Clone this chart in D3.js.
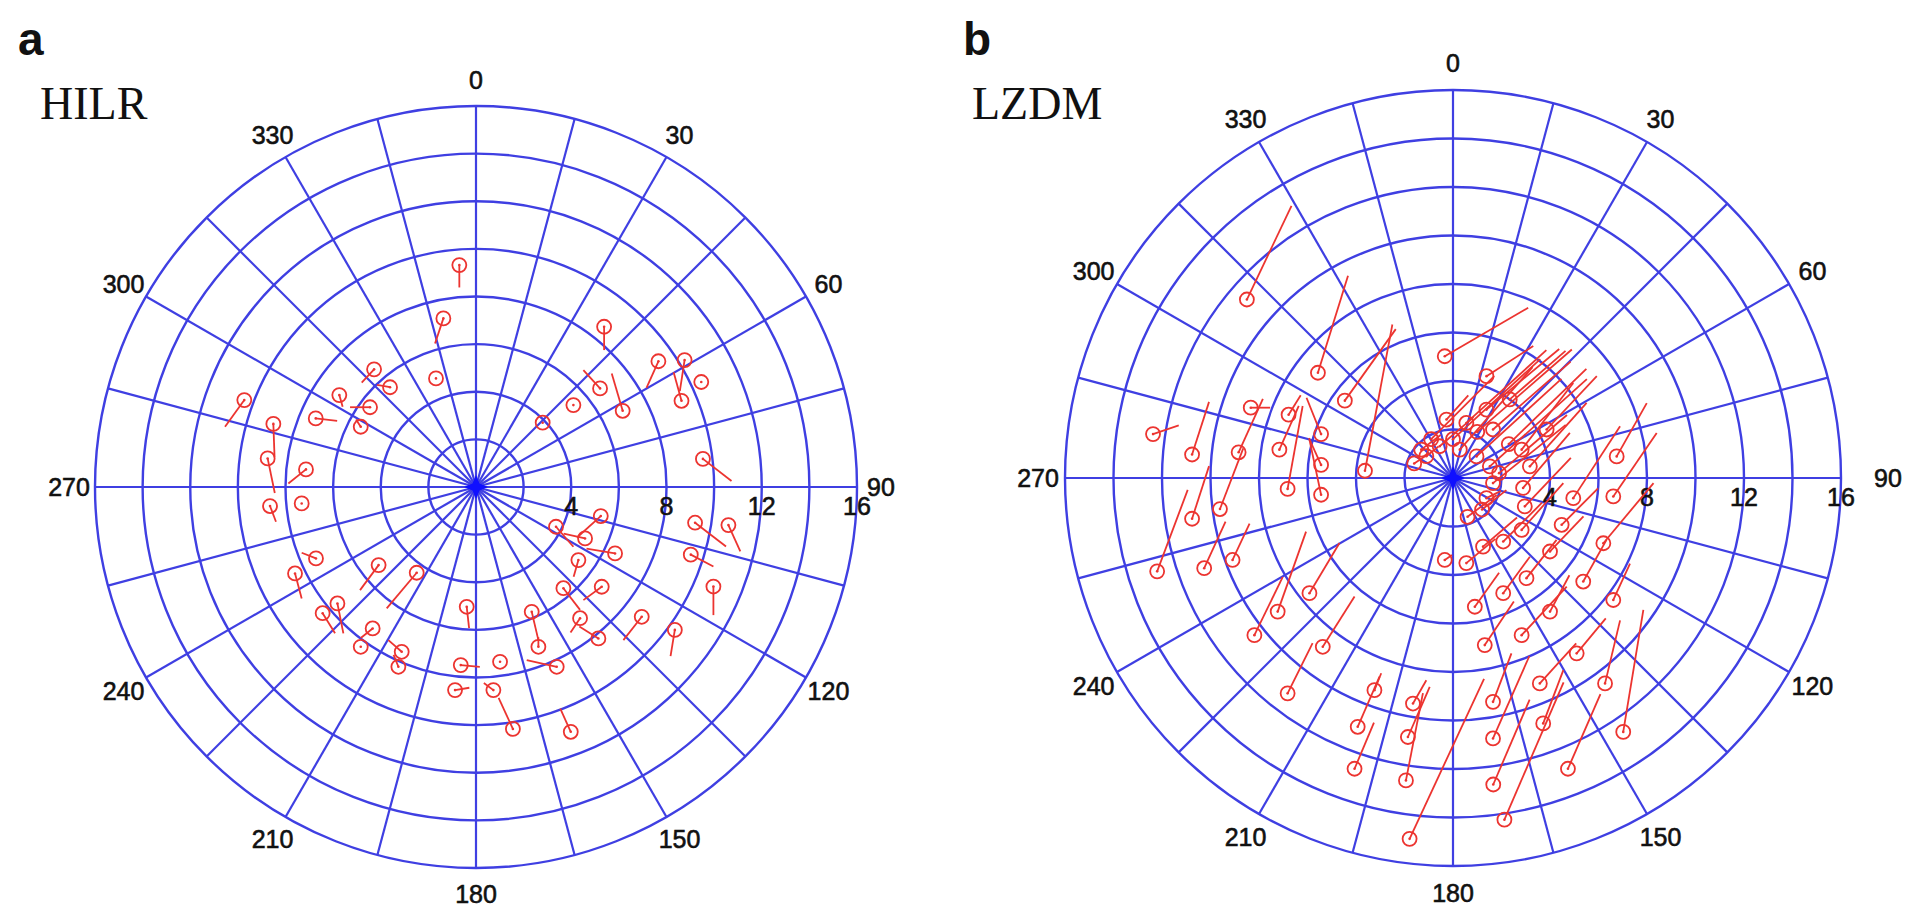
<!DOCTYPE html>
<html><head><meta charset="utf-8">
<script src="https://cdn.jsdelivr.net/npm/d3@7/dist/d3.min.js"></script>
<style>body{margin:0;background:#fff}svg{display:block}</style>
</head><body>
<svg id="c" width="1914" height="912"></svg>
<script>
// ---- data (east, north position in radius units; stick dE, dN) ----
const angleTicks = [0,30,60,90,120,150,180,210,240,270,300,330];
const radiusTicks = [4,8,12,16];
const ringValues = [2,4,6,8,10,12,14,16];
const spokeAngles = d3.range(0,360,15);
const panelLetters = ["a","b"];
const stationNames = ["HILR","LZDM"];

const hilrEast  = [-0.70,-1.37,-1.68,-4.28,-3.61,-5.74,-4.45,-4.84,-6.73,-9.73,-8.51,-8.75,-7.14,-8.65,-7.32,-6.72,-7.60,-5.82,-6.44,-4.09,-2.49,-4.34,-4.84,-3.12,-3.26,-0.39,-0.64,1.01,-0.88,0.73,5.38,4.09,2.80,5.21,6.16,5.24,3.36,4.58,5.84,4.30,3.67,5.28,4.37,5.14,2.34,2.62,3.39,6.96,1.55,3.98,8.35,9.97,9.02,9.20,10.60,9.53,9.46,8.63,8.76,7.66];
const hilrNorth = [9.32,7.08,4.56,4.94,4.19,3.86,3.35,2.53,2.88,3.65,2.65,1.20,0.74,-0.80,-0.69,-3.00,-3.63,-4.89,-5.30,-3.28,-3.60,-5.94,-6.71,-6.92,-7.55,-5.03,-7.48,-7.34,-8.53,-8.53,6.73,3.44,2.70,4.14,3.20,-1.22,-1.67,-2.16,-2.79,-3.07,-4.25,-4.19,-5.51,-6.36,-5.24,-6.71,-7.55,-5.45,-10.16,-10.28,-6.00,-4.18,-2.84,-1.50,-1.60,1.18,4.41,3.62,5.33,5.28];
const hilrStickE = [0,-0.35,0,-0.52,-0.55,0.14,-0.84,-0.2,0.9,-0.81,0.05,0.3,-0.74,0.25,0,-0.6,0.28,0.25,0.52,-0.78,-1.26,-0.5,0,-0.56,-0.2,0.1,0.8,0,0.6,-0.4,0,0,0,-0.7,-0.46,-1.0,0.73,-0.9,-1.2,-0.2,0.7,-0.77,-0.4,-0.8,0.28,0,-1.26,-0.77,-0.6,-0.44,-0.18,0,0.95,1.3,0.5,1.2,0,-0.33,-0.2,-0.5];
const hilrStickN = [-0.94,-1.05,0,-0.56,0.1,-0.49,0,0.3,-0.1,-1.12,-1.4,-1.45,-0.59,-0.66,0,0.24,-1.05,-1.26,-0.84,-1.05,-1.5,-0.4,0,0.49,0.5,-0.9,-0.07,0,0.1,0.3,-0.98,0,0,0.77,1.57,-0.9,-0.84,0.2,0.2,-0.7,-0.91,-0.56,-0.6,0.5,-1.19,0.4,0.28,-0.98,1.3,0.97,-1.1,-1.2,-0.5,-1.0,-1.1,-0.93,0,1.2,-1.3,-1.12];

const lzdmEast  = [-8.5,-5.57,-4.46,-8.34,-6.78,-7.16,-8.84,-5.44,-5.44,-5.44,-6.82,-9.61,-3.63,-10.26,-9.09,-5.92,-7.23,-8.19,-5.37,-6.82,-3.24,-3.93,-1.65,-1.86,1.65,1.65,3.72,3.58,5.1,6.27,7.02,6.61,5.37,4.0,3.03,2.07,0.9,2.83,1.31,4.0,6.2,4.48,6.61,4.96,6.75,3.86,2.83,3.17,2.89,2.96,2.83,2.07,1.24,0.55,-0.34,-0.34,-0.27,1.38,-1.31,-0.55,0.28,0.97,1.52,1.65,1.38,0.55,1.38,1.65,2.34,-12.37,-10.76,-10.76,-12.2,-4.06,-1.94,-1.79,1.66,2.12,4.74,-1.6,-0.9,0.0,1.9,1.2,0.6,-1.1,2.3,1.0];
const lzdmNorth = [7.36,4.34,3.19,2.9,2.61,1.17,1.06,1.81,0.54,-0.69,-0.45,-1.28,0.3,-3.72,-3.38,-4.75,-5.51,-6.48,-6.96,-8.88,-8.75,-10.26,-9.3,-10.68,-9.23,-10.74,-10.12,-8.47,-7.23,-8.47,-10.47,-5.03,-4.27,-5.51,-4.13,-4.75,-5.31,-6.48,-6.89,-3.03,-2.69,-1.93,-0.76,-0.83,0.89,2.0,1.17,0.48,-0.41,-1.17,-2.14,-2.62,-2.83,-3.51,-3.38,5.02,2.41,4.2,1.17,1.31,1.17,0.89,0.48,-0.21,-0.83,2.27,2.82,2.0,3.24,1.81,0.97,-1.68,-3.85,-11.99,-12.47,-14.88,-12.64,-14.09,-11.99,0.6,1.6,1.6,0.2,-1.3,-1.6,0.9,1.4,1.9];
const lzdmStickE = [1.84,1.24,2.1,0.8,0.5,0.8,1.0,-0.6,-0.5,-0.48,0.62,0.96,1.13,0.88,0.7,1.24,1.17,1.17,1.31,1.03,0.28,0.9,0.55,0.9,0.76,1.5,0.83,1.5,1.2,0.62,0.83,0.69,0.96,0.8,1.24,1.1,1.0,1.86,1.2,1.38,2.07,1.5,1.79,1.93,1.24,2.07,2.13,2.34,1.93,1.9,1.72,1.6,1.4,1.2,0.3,3.44,0.9,1.93,0.8,1.4,3.0,3.5,4.0,3.0,0.6,3.3,3.0,3.2,2.3,1.06,0.7,0.7,1.26,0.8,0.7,3.07,1.5,2.44,1.34,0.6,2.6,3.6,2.8,1.0,1.2,0.5,3.2,3.9];
const lzdmStickN = [3.86,4.0,2.95,0.0,0.8,1.8,2.2,1.5,1.1,2.27,3.42,2.5,6.03,1.92,1.5,2.07,3.3,2.4,2.07,2.07,0.7,2.07,0.96,2.07,2.0,3.4,2.2,1.65,1.44,2.6,5.03,1.5,1.72,1.5,1.58,1.5,1.4,2.0,1.8,1.45,2.48,1.5,2.62,2.96,2.2,2.2,2.75,2.62,2.27,2.0,1.93,1.6,1.2,1.0,0.2,2.0,1.0,1.24,0.6,1.2,3.4,3.2,3.6,2.4,0.3,3.0,2.5,2.8,2.0,0.36,2.17,2.17,3.36,1.9,3.6,6.6,3.5,5.66,3.08,0.4,2.6,3.3,2.4,0.8,0.9,0.4,3.1,3.4];

// ---- layout ----
const panels = [
  {cx:476, cy:487, R:381, letterX:18, nameX:40, east:hilrEast, north:hilrNorth, se:hilrStickE, sn:hilrStickN, labelOff:26, off90:24},
  {cx:1453, cy:478, R:388, letterX:963, nameX:972, east:lzdmEast, north:lzdmNorth, se:lzdmStickE, sn:lzdmStickN, labelOff:27, off90:47}
];
const gridColor = "#3f3fe2";
const markColor = "#ec3430";
const svg = d3.select("#c");
const sans = "Liberation Sans, Arial, sans-serif";

panels.forEach((p,i)=>{
  const g = svg.append("g").attr("transform",`translate(${p.cx},${p.cy})`);
  const r = d3.scaleLinear().domain([0,16]).range([0,p.R]);
  const ang = d3.scaleLinear().domain([0,360]).range([0,2*Math.PI]);
  g.selectAll("circle.ring").data(ringValues).join("circle")
    .attr("r",d=>r(d)).attr("fill","none").attr("stroke",gridColor).attr("stroke-width",2.4);
  g.selectAll("line.spoke").data(spokeAngles).join("line")
    .attr("x1",0).attr("y1",0)
    .attr("x2",d=>r(16)*Math.sin(ang(d))).attr("y2",d=>-r(16)*Math.cos(ang(d)))
    .attr("stroke",gridColor).attr("stroke-width",2.2);
  const s=12, t=3.5;
  g.append("path").attr("d",`M0,${-s}L${t},${-t}L${s},0L${t},${t}L0,${s}L${-t},${t}L${-s},0L${-t},${-t}Z`).attr("fill","#1010ff");
  g.selectAll("text.ang").data(angleTicks).join("text")
    .attr("x",d=>(r(16)+(d===90?p.off90:p.labelOff))*Math.sin(ang(d)))
    .attr("y",d=>-(r(16)+(d===90?p.off90:p.labelOff))*Math.cos(ang(d)))
    .attr("dy","0.36em").attr("text-anchor","middle")
    .attr("font-family",sans).attr("font-size",25)
    .attr("fill","#111").attr("stroke","#111").attr("stroke-width",0.6).text(d=>d);
  g.selectAll("text.rad").data(radiusTicks).join("text")
    .attr("x",d=>r(d)).attr("y",19).attr("dy","0.36em").attr("text-anchor","middle")
    .attr("font-family",sans).attr("font-size",25)
    .attr("fill","#111").attr("stroke","#111").attr("stroke-width",0.6).text(d=>d);
  const data = p.east.map((e,k)=>({e, n:p.north[k], de:p.se[k], dn:p.sn[k]}));
  const mk = g.append("g");
  mk.selectAll("line").data(data).join("line")
    .attr("x1",d=>r(d.e)).attr("y1",d=>-r(d.n))
    .attr("x2",d=>r(d.e+d.de)).attr("y2",d=>-r(d.n+d.dn))
    .attr("stroke",markColor).attr("stroke-width",1.8);
  mk.selectAll("circle").data(data).join("circle")
    .attr("cx",d=>r(d.e)).attr("cy",d=>-r(d.n)).attr("r",7)
    .attr("fill","none").attr("stroke",markColor).attr("stroke-width",1.8);
  mk.selectAll("circle.dot").data(data).join("circle").attr("class","dot")
    .attr("cx",d=>r(d.e)).attr("cy",d=>-r(d.n)).attr("r",1.3).attr("fill",markColor);
  svg.append("text").attr("x",p.letterX).attr("y",55).attr("font-family",sans)
    .attr("font-weight","bold").attr("font-size",46).attr("fill","#111").text(panelLetters[i]);
  svg.append("text").attr("x",p.nameX).attr("y",119).attr("font-family","Liberation Serif, Times New Roman, serif")
    .attr("font-size",46).attr("fill","#111").text(stationNames[i]);
});
</script>
</body></html>
